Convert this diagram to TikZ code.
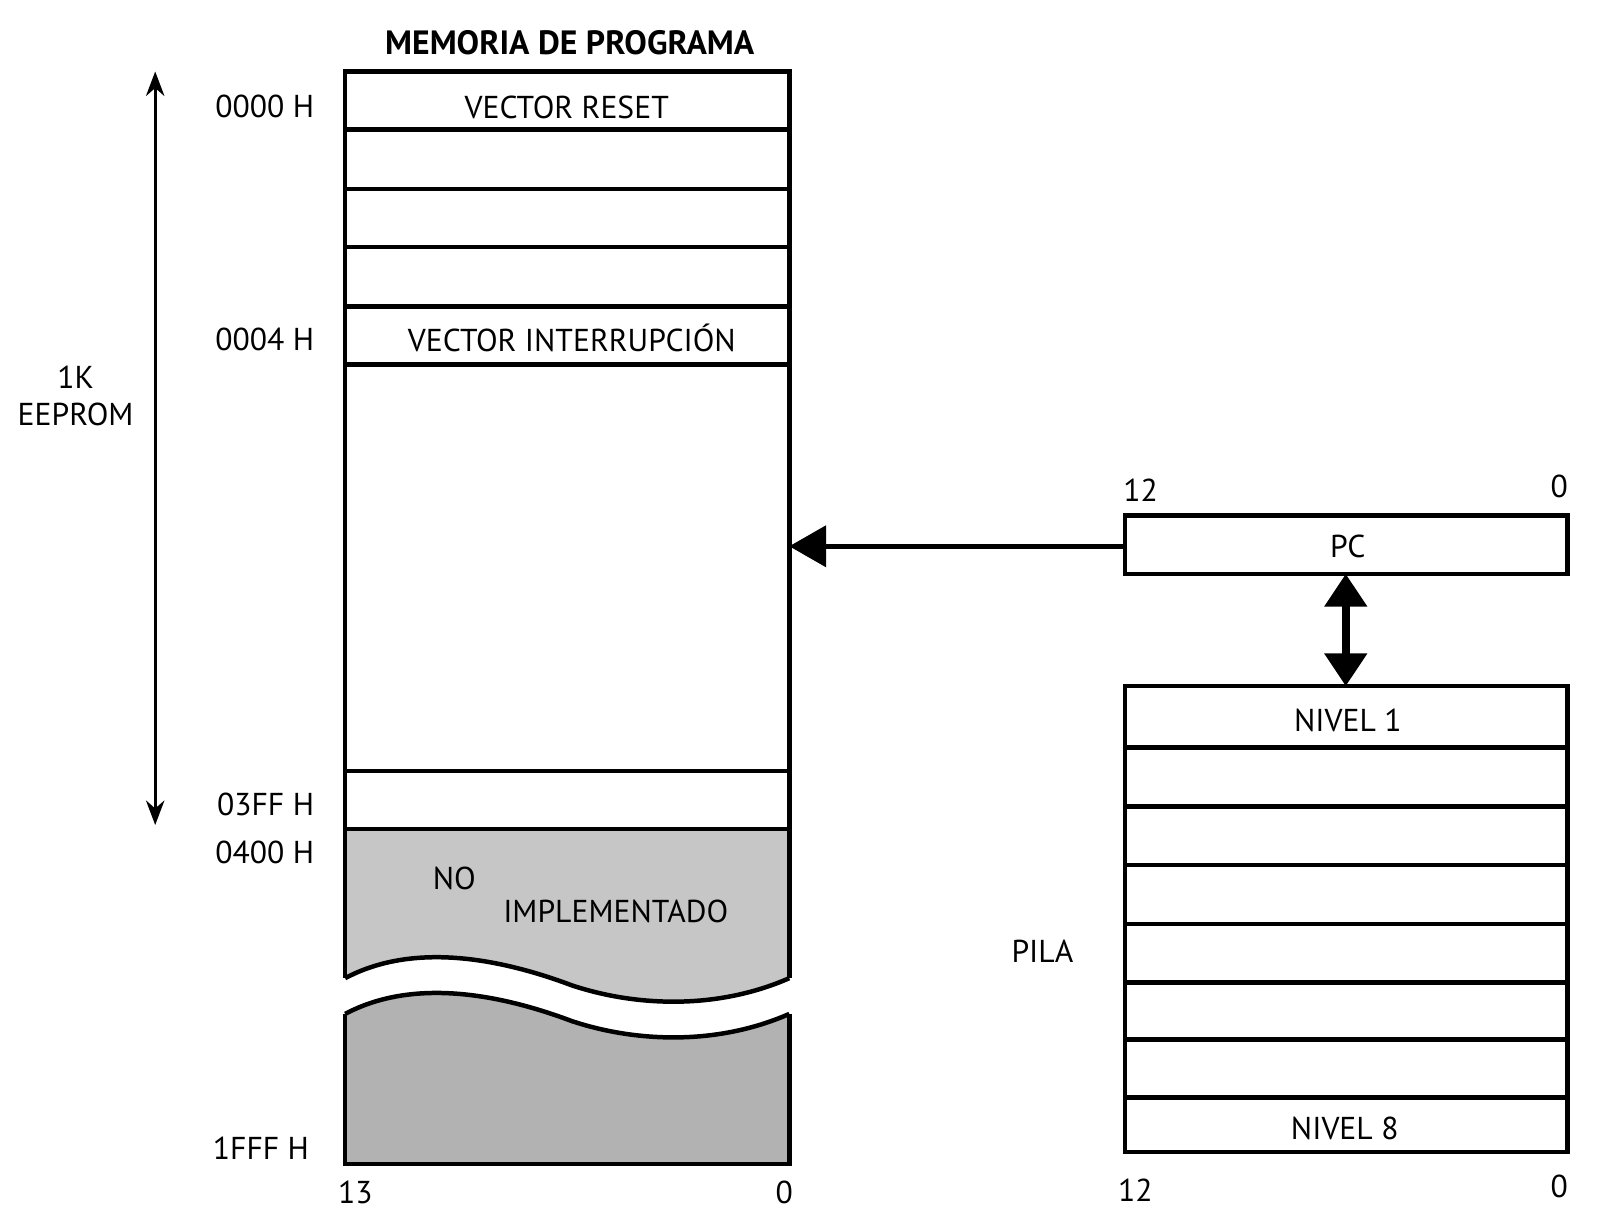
\documentclass[tikz,border=0pt]{standalone}
\usepackage{fontspec}
\setmainfont{PT Sans}
\usetikzlibrary{arrows.meta}
\begin{document}
\begin{tikzpicture}[x=0.5pt,y=-0.5pt,
  box/.style={line width=2.2pt},
  lbl/.style={font=\fontsize{15.5}{18}\selectfont,inner sep=0pt},
  row/.style={lbl,anchor=center}]
\useasboundingbox (0,0) rectangle (1567,1183);
% gray regions
\fill[gray!45] (338,812) -- (773,812) -- (773,958) .. controls (700,990) and (620,985) .. (560,965) .. controls (480,935) and (400,925) .. (338,958) -- cycle;
\fill[gray!60] (338,993) .. controls (400,960) and (480,970) .. (560,1000) .. controls (620,1020) and (700,1025) .. (773,993) -- (773,1140) -- (338,1140) -- cycle;
% memory box outline
\draw[box] (338,958) -- (338,70) -- (773,70) -- (773,958);
\draw[box] (338,993) -- (338,1140) -- (773,1140) -- (773,993);
\draw[box] (338,958) .. controls (400,925) and (480,935) .. (560,965) .. controls (620,985) and (700,990) .. (773,958);
\draw[box] (338,993) .. controls (400,960) and (480,970) .. (560,1000) .. controls (620,1020) and (700,1025) .. (773,993);
\foreach \y in {127,185,242,300,357,755,812} \draw[box] (338,\y) -- (773,\y);
\node[lbl,font=\fontsize{16.5}{18}\selectfont\bfseries] at (558,42) {MEMORIA DE PROGRAMA};
\node[row] at (555,105) {VECTOR RESET};
\node[row] at (560,331) {VECTOR INTERRUPCIÓN};
\node[row] at (445,860) {NO};
\node[row] at (603,893) {IMPLEMENTADO};
\node[lbl,anchor=east] at (308,104) {0000 H};
\node[lbl,anchor=east] at (308,332) {0004 H};
\node[lbl,anchor=east] at (308,788) {03FF H};
\node[lbl,anchor=east] at (308,835) {0400 H};
\node[lbl,anchor=east] at (303,1125) {1FFF H};
\node[lbl] at (348,1168) {13};
\node[lbl] at (768,1168) {0};
\node[lbl,align=center] at (74,388) {1K\\EEPROM};
\coordinate (at) at (152,70); \coordinate (ab) at (152,808);
\draw[line width=1.5pt,{Stealth[length=12pt,width=9pt]}-{Stealth[length=12pt,width=9pt]}] (at) -- (ab);
% PC
\draw[box] (1102,505) rectangle (1535,562);
\node[row] (pc) at (1320,535) {PC};
\node[lbl] at (1117,480) {12};
\node[lbl] at (1527,476) {0};
\coordinate (pcl) at (1102,535); \coordinate (meml) at (773,535);
\draw[line width=2.2pt,-{Triangle[length=18pt,width=20pt]}] (pcl) -- (meml);
% stack
\draw[box] (1102,672) rectangle (1535,1128);
\foreach \y in {732,790,847,905,962,1018,1075} \draw[box] (1102,\y) -- (1535,\y);
\node[row] at (1320,706) {NIVEL 1};
\node[row] at (1317,1105) {NIVEL 8};
\node[row] at (1021,932) {PILA};
\node[lbl] at (1112,1166) {12};
\node[lbl] at (1527,1162) {0};
\coordinate (d1) at (1318,562); \coordinate (d2) at (1318,672);
\draw[line width=4pt,{Triangle[length=16pt,width=20pt]}-{Triangle[length=16pt,width=20pt]}] (d1) -- (d2);
\end{tikzpicture}
\end{document}
